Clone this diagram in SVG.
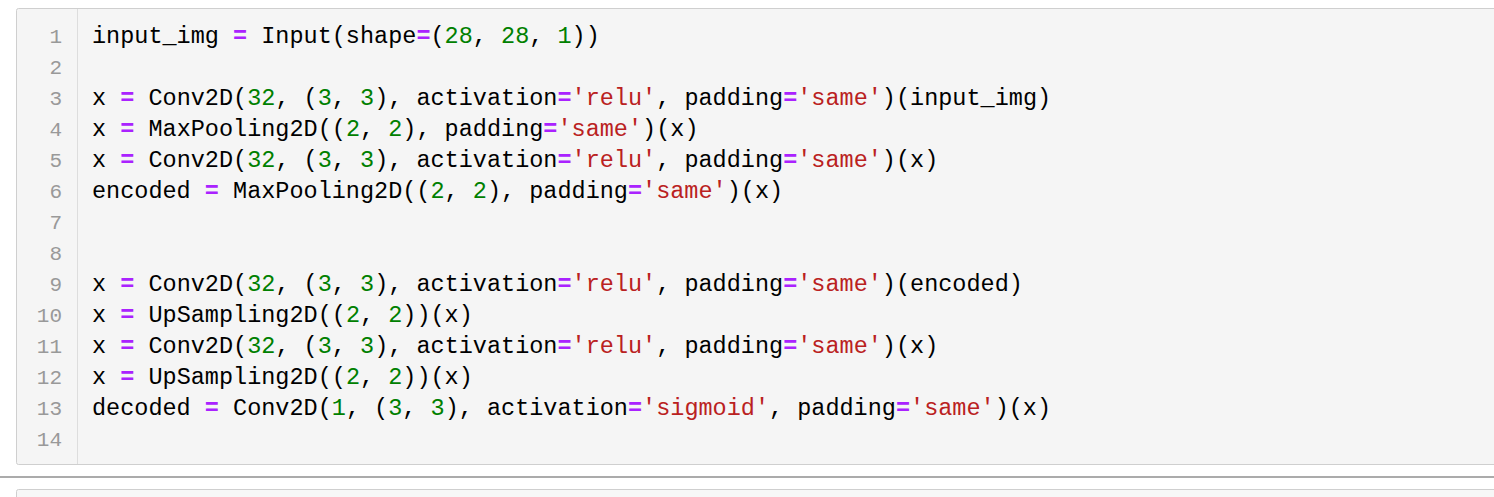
<svg xmlns="http://www.w3.org/2000/svg" width="1494" height="497" viewBox="0 0 1494 497">
<style>
.c{font-family:"Liberation Mono",monospace;font-size:23.5px;fill:#000;white-space:pre}
.n{font-family:"Liberation Mono",monospace;font-size:21px;fill:#999;text-anchor:end}
.o{fill:#aa22ff;font-weight:bold}.g{fill:#008000}.s{fill:#ba2121}
</style>
<rect x="0" y="0" width="1494" height="497" fill="#fff"/>
<g id="cell">
<rect x="16.5" y="8.5" width="1490" height="456" rx="2" fill="#f5f5f5" stroke="#cfcfcf"/>
<line x1="77.5" y1="9" x2="77.5" y2="464" stroke="#ddd"/>
</g>
<line x1="0" y1="477" x2="1494" y2="477" stroke="#ababab" stroke-width="2"/>
<rect id="cell2" x="16.5" y="489.5" width="1490" height="30" rx="2" fill="#f7f7f7" stroke="#cfcfcf"/>
<g id="nums">
<text class="n" x="62" y="43">1</text><text class="n" x="62" y="74">2</text><text class="n" x="62" y="105">3</text><text class="n" x="62" y="136">4</text><text class="n" x="62" y="167">5</text><text class="n" x="62" y="198">6</text><text class="n" x="62" y="229">7</text><text class="n" x="62" y="260">8</text><text class="n" x="62" y="291">9</text><text class="n" x="62" y="322">10</text><text class="n" x="62" y="353">11</text><text class="n" x="62" y="384">12</text><text class="n" x="62" y="415">13</text><text class="n" x="62" y="446">14</text>
</g>
<g id="code" xml:space="preserve">
<text class="c" x="92" y="43">input_img <tspan class="o">=</tspan> Input(shape<tspan class="o">=</tspan>(<tspan class="g">28</tspan>, <tspan class="g">28</tspan>, <tspan class="g">1</tspan>))</text>
<text class="c" x="92" y="105">x <tspan class="o">=</tspan> Conv2D(<tspan class="g">32</tspan>, (<tspan class="g">3</tspan>, <tspan class="g">3</tspan>), activation<tspan class="o">=</tspan><tspan class="s">'relu'</tspan>, padding<tspan class="o">=</tspan><tspan class="s">'same'</tspan>)(input_img)</text>
<text class="c" x="92" y="136">x <tspan class="o">=</tspan> MaxPooling2D((<tspan class="g">2</tspan>, <tspan class="g">2</tspan>), padding<tspan class="o">=</tspan><tspan class="s">'same'</tspan>)(x)</text>
<text class="c" x="92" y="167">x <tspan class="o">=</tspan> Conv2D(<tspan class="g">32</tspan>, (<tspan class="g">3</tspan>, <tspan class="g">3</tspan>), activation<tspan class="o">=</tspan><tspan class="s">'relu'</tspan>, padding<tspan class="o">=</tspan><tspan class="s">'same'</tspan>)(x)</text>
<text class="c" x="92" y="198">encoded <tspan class="o">=</tspan> MaxPooling2D((<tspan class="g">2</tspan>, <tspan class="g">2</tspan>), padding<tspan class="o">=</tspan><tspan class="s">'same'</tspan>)(x)</text>
<text class="c" x="92" y="291">x <tspan class="o">=</tspan> Conv2D(<tspan class="g">32</tspan>, (<tspan class="g">3</tspan>, <tspan class="g">3</tspan>), activation<tspan class="o">=</tspan><tspan class="s">'relu'</tspan>, padding<tspan class="o">=</tspan><tspan class="s">'same'</tspan>)(encoded)</text>
<text class="c" x="92" y="322">x <tspan class="o">=</tspan> UpSampling2D((<tspan class="g">2</tspan>, <tspan class="g">2</tspan>))(x)</text>
<text class="c" x="92" y="353">x <tspan class="o">=</tspan> Conv2D(<tspan class="g">32</tspan>, (<tspan class="g">3</tspan>, <tspan class="g">3</tspan>), activation<tspan class="o">=</tspan><tspan class="s">'relu'</tspan>, padding<tspan class="o">=</tspan><tspan class="s">'same'</tspan>)(x)</text>
<text class="c" x="92" y="384">x <tspan class="o">=</tspan> UpSampling2D((<tspan class="g">2</tspan>, <tspan class="g">2</tspan>))(x)</text>
<text class="c" x="92" y="415">decoded <tspan class="o">=</tspan> Conv2D(<tspan class="g">1</tspan>, (<tspan class="g">3</tspan>, <tspan class="g">3</tspan>), activation<tspan class="o">=</tspan><tspan class="s">'sigmoid'</tspan>, padding<tspan class="o">=</tspan><tspan class="s">'same'</tspan>)(x)</text>
</g>
</svg>
